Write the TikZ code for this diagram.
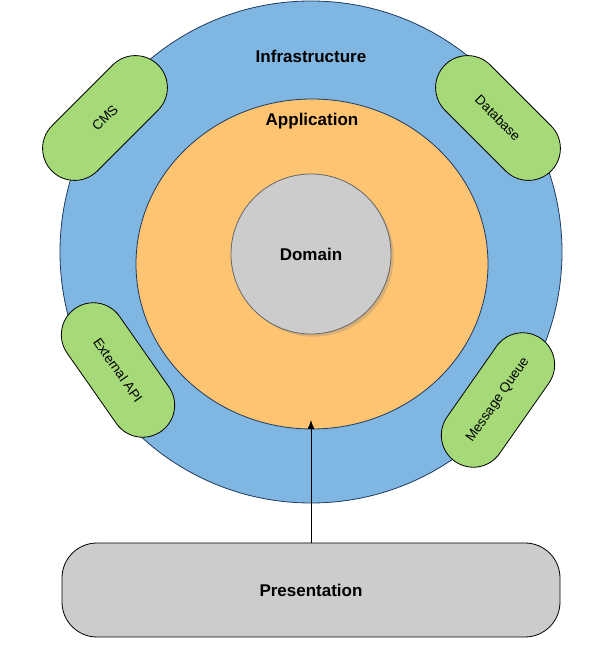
\documentclass[tikz,border=0pt]{standalone}
\usepackage{fontspec}
\setmainfont{Liberation Sans}
\usetikzlibrary{shadows,arrows.meta,shapes.geometric}
\definecolor{infra}{HTML}{80B7E2}
\definecolor{appl}{HTML}{FFC472}
\definecolor{pill}{HTML}{A6DA78}
\definecolor{dom}{HTML}{CCCCCC}
\definecolor{edge}{HTML}{1E3A5F}
\begin{document}
\begin{tikzpicture}[x=1pt,y=1pt,
  lbl/.style={font=\bfseries\fontsize{17}{20}\selectfont},
  pillst/.style={draw=black,line width=0.8pt,fill=pill,rounded corners=32pt,minimum width=150pt,minimum height=64pt,font=\fontsize{13.5}{16}\selectfont,inner sep=0pt}]
\useasboundingbox (0,0) rectangle (608,670);
\node[circle,draw=edge,line width=0.8pt,fill=infra,minimum size=502pt,inner sep=0pt] (infra) at (311,418) {};
\node[lbl] (infral) at (311,614) {Infrastructure};
\node[ellipse,draw=edge,line width=0.8pt,fill=appl,minimum width=352pt,minimum height=330pt,inner sep=0pt] (app) at (312,406) {};
\node[lbl] (appl) at (312,549) {Application};
\node[circle,draw=black!60,line width=0.8pt,fill=dom,minimum size=160pt,inner sep=0pt,drop shadow={opacity=0.3}] (dom) at (311,416) {};
\node[lbl] at (dom) {Domain};
\node[pillst,rotate=45] (cms) at (105,552) {CMS};
\node[pillst,rotate=-45] (db) at (498,552) {Database};
\node[pillst,rotate=-55] (ext) at (118,300) {External API};
\node[pillst,rotate=55] (mq) at (498,270) {Message Queue};
\node[draw=black,line width=0.8pt,fill=dom,rounded corners=35pt,minimum width=498pt,minimum height=94pt,lbl] (pres) at (311,80) {Presentation};
\coordinate (tip) at (311,250);
\draw[-{Latex[length=9pt,width=7pt]},line width=1pt] (pres.north) -- (tip);
\end{tikzpicture}
\end{document}
